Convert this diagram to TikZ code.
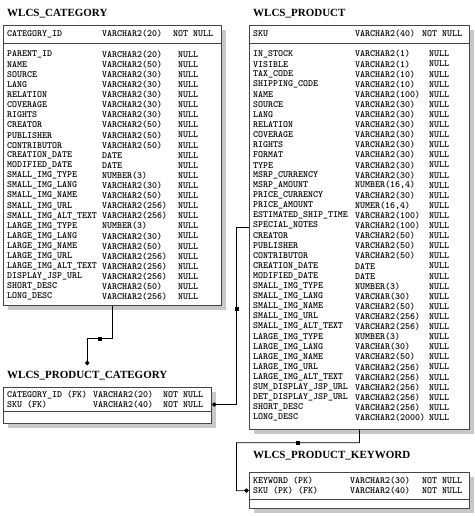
\documentclass[tikz,border=0pt]{standalone}
\usepackage{fontspec}
\newfontfamily\titlefont{Liberation Serif}
\usetikzlibrary{arrows.meta,shadows}
\definecolor{boxline}{RGB}{70,70,70}
\definecolor{shade}{RGB}{200,200,200}

\tikzset{
  tbl/.style={draw=boxline,line width=0.8pt,fill=white,anchor=north west,inner sep=0pt,
    drop shadow={shadow xshift=5pt,shadow yshift=-5pt,fill=shade,opacity=1}},
  ttl/.style={anchor=west,inner sep=0pt,font=\titlefont\bfseries\fontsize{11}{12}\selectfont},
  fld/.style={anchor=west,inner sep=0pt,font=\ttfamily\bfseries\fontsize{9.5}{10}\selectfont},
  conn/.style={draw=black,line width=0.7pt,-{Diamond[length=5pt,width=4.5pt]}},
  sq/.style={fill=black,inner sep=0pt,minimum size=4pt},
}

\begin{document}
\begin{tikzpicture}[x=1pt,y=-1pt]
\useasboundingbox (0,0) rectangle (474,516);
% table boxes
\node[tbl,minimum width=218pt,minimum height=280pt] (catbox) at (3,25) {};
\node[tbl,minimum width=220pt,minimum height=404pt] (prodbox) at (249,25) {};
\node[tbl,minimum width=208pt,minimum height=36pt] (pcatbox) at (3,387) {};
\node[tbl,minimum width=220pt,minimum height=36pt] (kwbox) at (249,472) {};
\draw[boxline,line width=0.8pt] ([yshift=-18pt]catbox.north west) -- ([yshift=-18pt]catbox.north east);
\draw[boxline,line width=0.8pt] ([yshift=-18pt]prodbox.north west) -- ([yshift=-18pt]prodbox.north east);
\draw[boxline,line width=0.8pt] ([yshift=-24pt]pcatbox.north west) -- ([yshift=-24pt]pcatbox.north east);
\draw[boxline,line width=0.8pt] ([yshift=-27pt]kwbox.north west) -- ([yshift=-27pt]kwbox.north east);

% titles
\node[ttl] (cattitle) at (7,14) {WLCS\_CATEGORY};
\node[ttl] (prodtitle) at (253,14) {WLCS\_PRODUCT};
\node[ttl] (pcattitle) at (7,376) {WLCS\_PRODUCT\_CATEGORY};
\node[ttl] (kwtitle) at (253,456) {WLCS\_PRODUCT\_KEYWORD};

% WLCS_CATEGORY
\node[fld] (cat-key) at (7,34) {CATEGORY\_ID};
\node[fld] (cat-keyt) at (102,34) {VARCHAR2(20)};
\node[fld] (cat-keyn) at (173,34) {NOT NULL};
\foreach \nm/\ty [count=\k from 0] in {PARENT\_ID/VARCHAR2(20),NAME/VARCHAR2(50),
  SOURCE/VARCHAR2(30),LANG/VARCHAR2(30),RELATION/VARCHAR2(30),COVERAGE/VARCHAR2(30),
  RIGHTS/VARCHAR2(30),CREATOR/VARCHAR2(50),PUBLISHER/VARCHAR2(50),CONTRIBUTOR/VARCHAR2(50),
  CREATION\_DATE/DATE,MODIFIED\_DATE/DATE,SMALL\_IMG\_TYPE/NUMBER(3),
  SMALL\_IMG\_LANG/VARCHAR2(30),SMALL\_IMG\_NAME/VARCHAR2(50),SMALL\_IMG\_URL/VARCHAR2(256),
  SMALL\_IMG\_ALT\_TEXT/VARCHAR2(256),LARGE\_IMG\_TYPE/NUMBER(3),LARGE\_IMG\_LANG/VARCHAR2(30),
  LARGE\_IMG\_NAME/VARCHAR2(50),LARGE\_IMG\_URL/VARCHAR2(256),LARGE\_IMG\_ALT\_TEXT/VARCHAR2(256),
  DISPLAY\_JSP\_URL/VARCHAR2(256),SHORT\_DESC/VARCHAR2(50),LONG\_DESC/VARCHAR2(256)}{
  \node[fld] (cat-n\k) at (7,54.3+\k*10.1) {\nm};
  \node[fld] (cat-t\k) at (102,54.3+\k*10.1) {\ty};
  \node[fld] (cat-v\k) at (178,54.3+\k*10.1) {NULL};
}

% WLCS_PRODUCT
\node[fld] (prod-key) at (253,34) {SKU};
\node[fld] (prod-keyt) at (355,34) {VARCHAR2(40)};
\node[fld] (prod-keyn) at (422,34) {NOT NULL};
\foreach \nm/\ty [count=\k from 0] in {IN\_STOCK/VARCHAR2(1),VISIBLE/VARCHAR2(1),
  TAX\_CODE/VARCHAR2(10),SHIPPING\_CODE/VARCHAR2(10),NAME/VARCHAR2(100),SOURCE/VARCHAR2(30),
  LANG/VARCHAR2(30),RELATION/VARCHAR2(30),COVERAGE/VARCHAR2(30),RIGHTS/VARCHAR2(30),
  FORMAT/VARCHAR2(30),TYPE/VARCHAR2(30),MSRP\_CURRENCY/VARCHAR2(30),MSRP\_AMOUNT/{NUMBER(16,4)},
  PRICE\_CURRENCY/VARCHAR2(30),PRICE\_AMOUNT/{NUMER(16,4)},ESTIMATED\_SHIP\_TIME/VARCHAR2(100),
  SPECIAL\_NOTES/VARCHAR2(100),CREATOR/VARCHAR2(50),PUBLISHER/VARCHAR2(50),
  CONTRIBUTOR/VARCHAR2(50),CREATION\_DATE/DATE,MODIFIED\_DATE/DATE,SMALL\_IMG\_TYPE/NUMBER(3),
  SMALL\_IMG\_LANG/VARCHAR(30),SMALL\_IMG\_NAME/VARCHAR2(50),SMALL\_IMG\_URL/VARCHAR2(256),
  SMALL\_IMG\_ALT\_TEXT/VARCHAR2(256),LARGE\_IMG\_TYPE/NUMBER(3),LARGE\_IMG\_LANG/VARCHAR(30),
  LARGE\_IMG\_NAME/VARCHAR2(50),LARGE\_IMG\_URL/VARCHAR2(256),LARGE\_IMG\_ALT\_TEXT/VARCHAR2(256),
  SUM\_DISPLAY\_JSP\_URL/VARCHAR2(256),DET\_DISPLAY\_JSP\_URL/VARCHAR2(256),
  SHORT\_DESC/VARCHAR2(256),LONG\_DESC/VARCHAR2(2000)}{
  \node[fld] (prod-n\k) at (253,54+\k*10.1) {\nm};
  \node[fld] (prod-t\k) at (355,54+\k*10.1) {\ty};
  \node[fld] (prod-v\k) at (429,54+\k*10.1) {NULL};
}

% WLCS_PRODUCT_CATEGORY
\foreach \nm/\ty [count=\k from 0] in {CATEGORY\_ID (FK)/VARCHAR2(20),SKU (FK)/VARCHAR2(40)}{
  \node[fld] (pcat-n\k) at (7,394.5+\k*10) {\nm};
  \node[fld] (pcat-t\k) at (93,394.5+\k*10) {\ty};
  \node[fld] (pcat-v\k) at (163,394.5+\k*10) {NOT NULL};
}

% WLCS_PRODUCT_KEYWORD
\foreach \nm/\ty [count=\k from 0] in {KEYWORD (PK)/VARCHAR2(30),SKU (PK) (FK)/VARCHAR2(40)}{
  \node[fld] (kw-n\k) at (253,481+\k*9.5) {\nm};
  \node[fld] (kw-t\k) at (350,481+\k*9.5) {\ty};
  \node[fld] (kw-v\k) at (422,481+\k*9.5) {NOT NULL};
}

% relationships
\draw[conn] (catbox.south) -- ++(0,33) -| node[sq,pos=0.25] (catmark) {} ([yshift=6pt]pcattitle.north);
\draw[conn] (prodbox.west) -- ++(-12.5,0) |- node[sq,pos=0.23] (prodmark) {} (pcatbox.east |- pcat-n1);
\draw[conn] (prodbox.south) -- ++(0,13) -| node[sq,pos=0.25] (kwmark) {} ++(-123,48) -- (kwbox.west |- kw-n1);
\end{tikzpicture}
\end{document}
